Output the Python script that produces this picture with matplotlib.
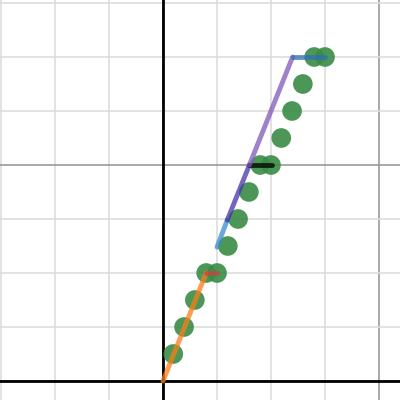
import matplotlib
matplotlib.use("Agg")
import matplotlib.pyplot as plt

# green data points
point_x = [0.19, 0.39, 0.59, 0.8, 1.0, 1.2, 1.39, 1.59, 1.8, 2.0, 2.19, 2.39, 2.59, 2.8, 3.0]
point_y = [0.5, 1.0, 1.5, 2.0, 2.0, 2.5, 3.0, 3.5, 4.0, 4.0, 4.5, 5.0, 5.5, 6.0, 6.0]

# line segments: (x0, x1), (y0, y1), colour
segments = [
    ((0.0, 0.8), (0.0, 2.0), "#fa7e19"),
    ((0.8, 1.0), (2.0, 2.0), "#c74440"),
    ((1.0, 1.19), (2.48, 2.98), "#388ccf"),
    ((1.19, 1.6), (2.98, 4.0), "#4436a8"),
    ((1.6, 2.02), (4.0, 4.0), "#000000"),
    ((1.6, 2.4), (4.0, 6.0), "#7f58b8"),
    ((2.4, 3.0), (6.0, 6.0), "#2d70b3"),
]

fig = plt.figure(figsize=(4, 4), dpi=100)
ax = fig.add_axes([0, 0, 1, 1])
ax.set_xlim(-163 / 54, 237 / 54)
ax.set_ylim(-19 / 54, 381 / 54)

for v in range(-3, 5):
    major = v % 4 == 0
    ax.axvline(v, color="#999999" if major else "#dddddd", lw=1.2, zorder=0)
for v in range(0, 8):
    major = v % 4 == 0
    ax.axhline(v, color="#999999" if major else "#dddddd", lw=1.2, zorder=0)
ax.axvline(0, color="black", lw=2, zorder=1)
ax.axhline(0, color="black", lw=2, zorder=1)

for xs, ys, c in segments:
    ax.plot(xs, ys, color=c, lw=3.5, alpha=0.75, solid_capstyle="round", zorder=3)

ax.scatter(point_x, point_y, s=200, color="#388c46", alpha=0.9, edgecolors="none", zorder=2)

ax.axis("off")
fig.savefig("out.png", dpi=100)
